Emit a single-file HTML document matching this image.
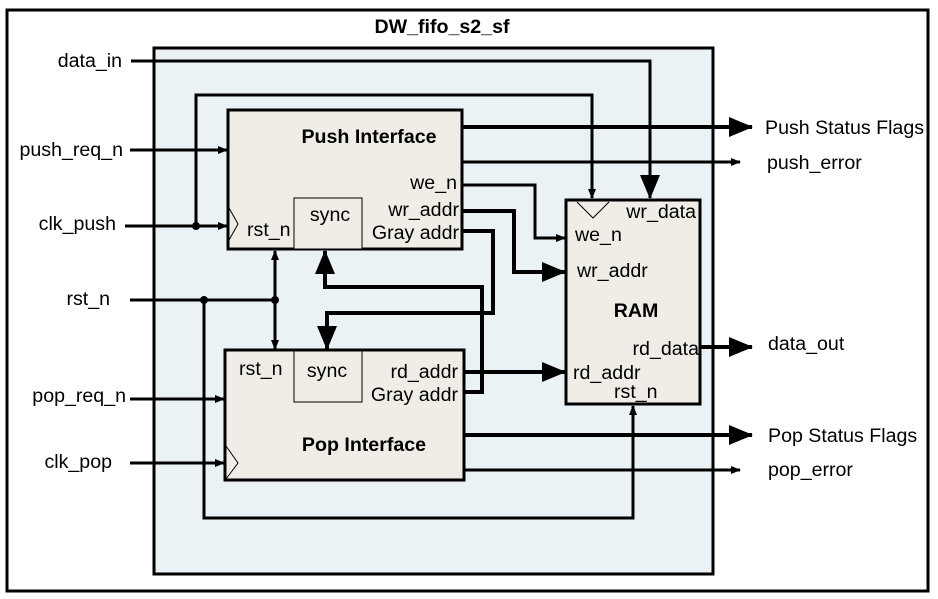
<!DOCTYPE html>
<html><head><style>
html,body{margin:0;padding:0;background:#fff}
svg{display:block}
text{font-family:"Liberation Sans",sans-serif;font-size:19.6px;fill:#000}
.b{font-weight:bold}
</style></head><body>
<svg width="938" height="599" viewBox="0 0 938 599" xmlns="http://www.w3.org/2000/svg">
<defs>
<marker id="s" markerWidth="10" markerHeight="8" refX="9" refY="4" orient="auto" markerUnits="userSpaceOnUse"><path d="M0,0 L10,4 L0,8 Z"/></marker>
<marker id="L" markerWidth="24" markerHeight="20" refX="23" refY="10" orient="auto" markerUnits="userSpaceOnUse"><path d="M0,0 L24,10 L0,20 Z"/></marker>
</defs>
<rect x="7" y="10" width="921" height="581" fill="#fff" stroke="#000" stroke-width="3"/>
<text x="442" y="33" text-anchor="middle" class="b">DW_fifo_s2_sf</text>
<rect x="154" y="48" width="559" height="526" fill="#eaf2f6" stroke="#000" stroke-width="3"/>

<g fill="none" stroke="#000" stroke-width="3">
<polyline points="131,61 650,61 650,198" marker-end="url(#L)"/>
<polyline points="196,226 196,95 592,95 592,198" marker-end="url(#s)"/>
<line x1="130" y1="150" x2="227" y2="150" marker-end="url(#s)"/>
<line x1="125" y1="226" x2="227" y2="226" marker-end="url(#s)"/>
<line x1="130" y1="300" x2="275" y2="300"/>
<line x1="275" y1="300" x2="275" y2="251" marker-end="url(#s)"/>
<line x1="275" y1="300" x2="275" y2="349" marker-end="url(#s)"/>
<polyline points="204,300 204,518 633,518 633,406" marker-end="url(#s)"/>
<line x1="130" y1="399" x2="224" y2="399" marker-end="url(#s)"/>
<line x1="130" y1="463" x2="224" y2="463" marker-end="url(#s)"/>
<line x1="463" y1="127" x2="752" y2="127" stroke-width="4" marker-end="url(#L)"/>
<line x1="463" y1="162" x2="740" y2="162" marker-end="url(#s)"/>
<polyline points="463,185 535,185 535,238 565,238" marker-end="url(#s)"/>
<polyline points="463,211 514,211 514,272 565,272" stroke-width="4" marker-end="url(#L)"/>
<polyline points="463,231 493,231 493,313 327,313 327,349" stroke-width="4" marker-end="url(#L)"/>
<polyline points="465,392 482,392 482,287 325,287 325,251" stroke-width="4" marker-end="url(#L)"/>
<line x1="465" y1="372" x2="565" y2="372" stroke-width="4" marker-end="url(#L)"/>
<line x1="701" y1="347" x2="752" y2="347" stroke-width="4" marker-end="url(#L)"/>
<line x1="465" y1="435" x2="752" y2="435" stroke-width="4" marker-end="url(#L)"/>
<line x1="465" y1="470" x2="740" y2="470" marker-end="url(#s)"/>
</g>
<circle cx="196" cy="226" r="4"/>
<circle cx="204" cy="300" r="4"/>
<circle cx="275" cy="300" r="4"/>

<rect x="228" y="110" width="234" height="139" fill="#f0ede6" stroke="#000" stroke-width="3"/>
<rect x="294" y="198" width="68" height="51" fill="#f0ede6" stroke="#000" stroke-width="1"/>
<polyline points="229,208 238,224 229,240" fill="none" stroke="#000" stroke-width="1"/>
<text x="369" y="143" text-anchor="middle" class="b">Push Interface</text>
<text x="247" y="236">rst_n</text>
<text x="330" y="221" text-anchor="middle">sync</text>
<text x="457" y="189" text-anchor="end">we_n</text>
<text x="459" y="216" text-anchor="end">wr_addr</text>
<text x="459" y="239" text-anchor="end">Gray addr</text>

<rect x="225" y="350" width="239" height="130" fill="#f0ede6" stroke="#000" stroke-width="3"/>
<rect x="294" y="351" width="68" height="51" fill="#f0ede6" stroke="#000" stroke-width="1"/>
<polyline points="226,446 238,463 226,479" fill="none" stroke="#000" stroke-width="1"/>
<text x="364" y="451" text-anchor="middle" class="b">Pop Interface</text>
<text x="239" y="375">rst_n</text>
<text x="327" y="377" text-anchor="middle">sync</text>
<text x="458" y="378" text-anchor="end">rd_addr</text>
<text x="458" y="401" text-anchor="end">Gray addr</text>

<rect x="566" y="200" width="134" height="204" fill="#f0ede6" stroke="#000" stroke-width="3"/>
<polyline points="577,202 593,218 609,202" fill="none" stroke="#000" stroke-width="1"/>
<text x="696" y="218" text-anchor="end">wr_data</text>
<text x="575" y="241">we_n</text>
<text x="577" y="277">wr_addr</text>
<text x="636" y="317" text-anchor="middle" class="b">RAM</text>
<text x="699" y="355" text-anchor="end">rd_data</text>
<text x="573" y="379">rd_addr</text>
<text x="614" y="398">rst_n</text>

<text x="122" y="67" text-anchor="end">data_in</text>
<text x="123" y="156" text-anchor="end">push_req_n</text>
<text x="116" y="230" text-anchor="end">clk_push</text>
<text x="110" y="305" text-anchor="end">rst_n</text>
<text x="126" y="402" text-anchor="end">pop_req_n</text>
<text x="112" y="468" text-anchor="end">clk_pop</text>
<text x="765" y="134">Push Status Flags</text>
<text x="767" y="169">push_error</text>
<text x="768" y="350">data_out</text>
<text x="768" y="442">Pop Status Flags</text>
<text x="768" y="476">pop_error</text>
</svg>
</body></html>
